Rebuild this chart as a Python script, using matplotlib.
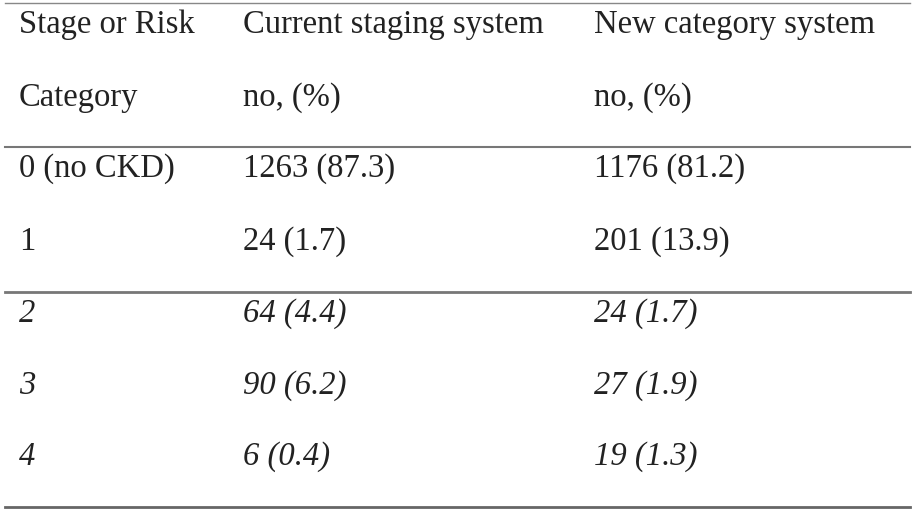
import matplotlib
matplotlib.use("Agg")
import matplotlib.pyplot as plt

headers1 = ["Stage or Risk", "Current staging system", "New category system"]
headers2 = ["Category", "no, (%)", "no, (%)"]
stages = ["0 (no CKD)", "1", "2", "3", "4"]
current = ["1263 (87.3)", "24 (1.7)", "64 (4.4)", "90 (6.2)", "6 (0.4)"]
new = ["1176 (81.2)", "201 (13.9)", "24 (1.7)", "27 (1.9)", "19 (1.3)"]
italic_rows = [False, False, True, True, True]

W, H = 913, 517
fig = plt.figure(figsize=(W/100, H/100), dpi=100)
ax = fig.add_axes([0, 0, 1, 1])
ax.set_xlim(0, W); ax.set_ylim(H, 0); ax.axis("off")

colx = [19, 243, 594]
fs = 23.5
font = "Liberation Serif"
col = "#222222"
row_y = [25, 98, 169, 242, 314, 386, 457]

for x, t in zip(colx, headers1):
    ax.text(x, row_y[0], t, fontsize=fs, family=font, color=col, va="center")
for x, t in zip(colx, headers2):
    ax.text(x, row_y[1], t, fontsize=fs, family=font, color=col, va="center")
for i, (s, c, n) in enumerate(zip(stages, current, new)):
    st = "italic" if italic_rows[i] else "normal"
    for x, t in zip(colx, [s, c, n]):
        ax.text(x, row_y[i + 2], t, fontsize=fs, family=font, style=st, color=col, va="center")

for y, lw, c in [(3, 1.0, "#888888"), (147, 1.5, "#777777"), (292, 2.0, "#777777"), (507, 2.0, "#666666")]:
    ax.plot([5, 910], [y, y], color=c, lw=lw)

fig.savefig("out.png", dpi=100)
